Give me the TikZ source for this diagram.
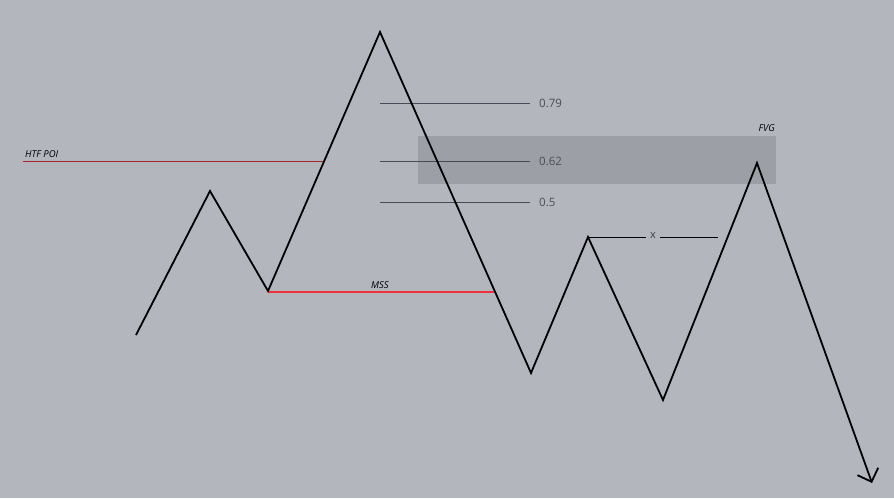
\documentclass[tikz,border=0pt]{standalone}
\usepackage{fontspec}
\setmainfont{Open Sans}
\usepackage{tikz}
\usetikzlibrary{positioning, arrows.meta, backgrounds}

\definecolor{bgcol}{HTML}{B4B6BE}
\definecolor{zonecol}{HTML}{9D9FA7}
\definecolor{fibcol}{HTML}{474A57}
\definecolor{labelcol}{HTML}{4A4D58}
\definecolor{msscol}{HTML}{F0303A}

\begin{document}
\begin{tikzpicture}[x=1pt, y=-1pt]
            % styles
            \tikzstyle{price} = [line width=1.8pt, draw=black, line join=miter]
            \tikzstyle{fib} = [line width=0.9pt, draw=fibcol]
            \tikzstyle{fiblabel} = [anchor=west, inner sep=0pt, font=\fontsize{11.5}{12}\selectfont, text=labelcol]
            \tikzstyle{tag} = [inner sep=0pt, font=\fontsize{9.5}{10}\selectfont\itshape, text=black]
            \tikzstyle{zone} = [rectangle, fill=zonecol, draw=none, inner sep=0pt]

            % canvas
            \fill [bgcol] (0,0) rectangle (894,498);
            \useasboundingbox (0,0) rectangle (894,498);

            % fair value gap
            \node (fvg) [zone, minimum width=358pt, minimum height=48pt] at (597,160) {};
            \node (fvglabel) [tag, anchor=base east] at (775,131) {FVG};

            % swing points
            \coordinate (p1) at (136,335);
            \coordinate (p2) at (210,191);
            \coordinate (p3) at (268,291);
            \coordinate (p4) at (380,32);
            \coordinate (p5) at (531,373);
            \coordinate (p6) at (588,237);
            \coordinate (p7) at (663,400);
            \coordinate (p8) at (757,163);
            \coordinate (p9) at (872,483);

            % HTF point of interest
            \coordinate (poiL) at (23,161);
            \coordinate (poiR) at (324,161);
            \draw [line width=0.6pt, draw=msscol!70!black] (poiL) -- (poiR);
            \node (poilabel) [tag, anchor=base west] at (25,157) {HTF POI};

            % market structure shift
            \coordinate (mssL) at (268,292);
            \coordinate (mssR) at (494,292);
            \draw [line width=1.1pt, draw=msscol] (mssL) -- (mssR);
            \node (msslabel) [tag, anchor=base] at (380,288) {MSS};

            % fib levels
            \foreach \lvl/\yy in {0.79/103, 0.62/161, 0.5/202} {
                \coordinate (fibL) at (380,\yy);
                \coordinate (fibR) at (530,\yy);
                \draw [fib] (fibL) -- (fibR);
                \node [fiblabel] at (539,\yy) {\lvl};
            }

            % equal highs
            \node (eqx) [inner sep=0pt, font=\fontsize{11}{11}\selectfont, text=black!75] at (653,236) {x};
            \coordinate (eqR) at (718,237);
            \draw [line width=0.9pt] (p6) -- ([xshift=-7pt]eqx.center |- p6);
            \draw [line width=0.9pt] ([xshift=7pt]eqx.center |- p6) -- (eqR);

            % price path
            \draw [price, -{Straight Barb[length=11pt, width=22pt, line width=1.8pt]}]
                (p1) -- (p2) -- (p3) -- (p4) -- (p5) -- (p6) -- (p7) -- (p8) -- (p9);
        \end{tikzpicture}
\end{document}
